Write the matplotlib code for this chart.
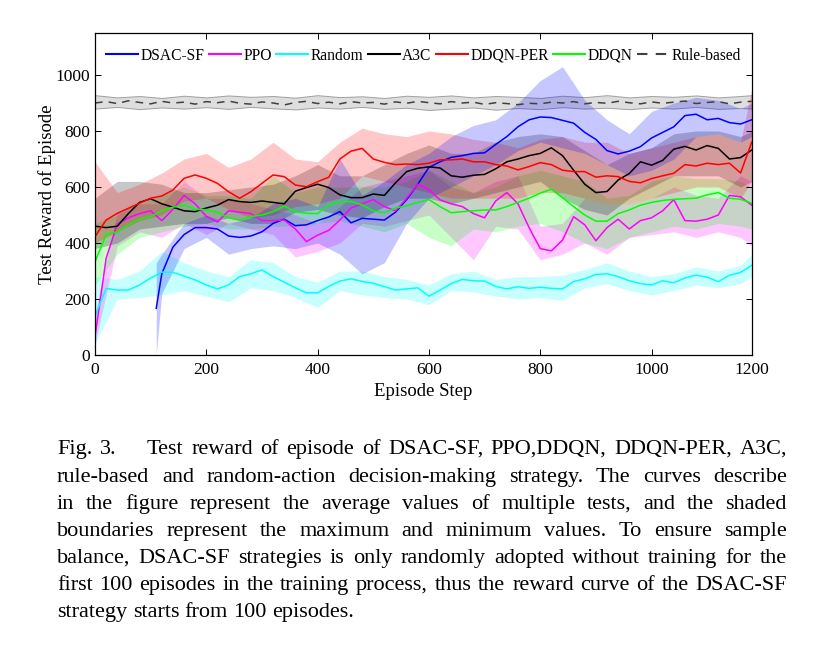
import numpy as np
import matplotlib
matplotlib.use('Agg')
import matplotlib.pyplot as plt

plt.rcParams['font.family'] = 'Liberation Serif'

# episode grids
ep = np.arange(0, 1181, 20)
band_ep = np.r_[np.arange(0, 1161, 40), 1180]
dsac_ep = np.r_[110, np.arange(120, 1181, 20)]
dsac_band_ep = [110, 120, 160, 200, 240, 280, 320, 360, 400, 440, 480, 520, 560, 600, 640,
                680, 720, 760, 800, 840, 880, 920, 960, 1000, 1040, 1080, 1120, 1160, 1180]

# mean curves
dsac = [167, 290, 385, 430, 455, 455, 450, 425, 420, 425, 440, 470, 485, 462, 465, 480, 493, 512,
        472, 488, 485, 482, 510, 555, 610, 670, 690, 706, 712, 720, 722, 752, 780, 815, 840, 850,
        848, 838, 828, 795, 770, 730, 718, 728, 744, 775, 795, 815, 855, 860, 840, 845, 830, 825, 840]
ppo = [66, 345, 468, 490, 505, 515, 480, 520, 570, 540, 495, 475, 515, 510, 505, 480, 480, 482,
       450, 405, 428, 445, 482, 525, 540, 555, 530, 515, 560, 610, 590, 554, 540, 530, 505, 490,
       550, 580, 540, 455, 380, 372, 410, 494, 465, 408, 455, 485, 450, 480, 490, 515, 555, 480,
       478, 485, 500, 570, 565, 535]
rnd = [140, 238, 232, 232, 250, 275, 296, 295, 282, 268, 250, 236, 250, 280, 290, 304, 280, 260,
       240, 222, 222, 245, 264, 272, 263, 256, 244, 232, 236, 240, 210, 232, 255, 270, 265, 264,
       245, 236, 244, 238, 242, 238, 236, 262, 272, 288, 290, 280, 265, 255, 250, 265, 258, 275,
       285, 278, 262, 285, 295, 320]
a3c = [460, 455, 460, 505, 545, 558, 540, 528, 515, 512, 525, 535, 555, 548, 545, 550, 545, 540,
       585, 598, 610, 598, 572, 562, 562, 575, 570, 615, 655, 667, 672, 668, 640, 635, 642, 645,
       665, 690, 700, 712, 720, 740, 712, 660, 610, 580, 584, 625, 648, 690, 678, 695, 735, 745,
       732, 748, 738, 700, 705, 732]
per = [423, 482, 506, 524, 542, 560, 568, 589, 631, 643, 631, 613, 583, 560, 583, 613, 643, 637,
       607, 601, 619, 635, 700, 728, 738, 700, 688, 680, 682, 680, 685, 697, 697, 700, 690, 690,
       680, 675, 661, 673, 687, 680, 660, 655, 655, 635, 640, 637, 620, 615, 630, 640, 649, 680,
       675, 685, 680, 685, 650, 760]
ddqn = [333, 430, 440, 465, 485, 494, 515, 528, 535, 520, 518, 510, 490, 482, 494, 500, 512, 532,
        512, 506, 505, 536, 548, 548, 536, 515, 508, 525, 533, 545, 555, 530, 508, 512, 515, 518,
        518, 530, 545, 560, 578, 592, 562, 530, 500, 478, 478, 505, 518, 535, 545, 552, 556, 558,
        560, 572, 580, 560, 556, 542]
rule = [900, 905, 898, 908, 902, 897, 906, 900, 903, 896, 905, 901, 907, 899, 896, 904, 900, 893,
        902, 906, 898, 903, 897, 905, 900, 902, 896, 904, 899, 906, 901, 897, 905, 900, 903, 895,
        901, 898, 894, 899, 897, 903, 900, 905, 897, 902, 899, 906, 901, 897, 904, 899, 903, 907,
        898, 902, 905, 897, 903, 906]

# min / max envelopes
dsac_lo = [0, 220, 380, 420, 360, 380, 390, 380, 400, 360, 290, 330, 470, 560, 600, 640, 680, 730,
           760, 740, 720, 680, 640, 660, 700, 780, 790, 760, 780]
dsac_hi = [330, 360, 470, 500, 470, 490, 540, 560, 530, 700, 570, 620, 680, 720, 780, 820, 840, 900,
           980, 1030, 910, 840, 790, 870, 900, 920, 910, 880, 900]
ppo_lo = [40, 390, 440, 420, 470, 430, 470, 450, 430, 350, 370, 400, 470, 460, 480, 500, 420, 340,
          460, 450, 340, 360, 400, 360, 420, 430, 440, 420, 440, 420, 390]
ppo_hi = [150, 510, 540, 540, 620, 560, 560, 540, 520, 500, 470, 530, 600, 620, 640, 660, 600, 580,
          620, 640, 460, 470, 560, 540, 540, 560, 600, 570, 560, 640, 620]
rnd_lo = [40, 200, 205, 215, 230, 210, 190, 240, 230, 205, 170, 230, 215, 205, 200, 180, 230, 225,
          210, 200, 205, 195, 240, 255, 230, 215, 230, 250, 240, 255, 280]
rnd_hi = [280, 270, 300, 370, 330, 300, 280, 340, 330, 280, 260, 300, 300, 280, 270, 250, 290, 300,
          270, 280, 280, 285, 305, 330, 300, 280, 290, 315, 300, 320, 360]
a3c_lo = [380, 400, 450, 460, 470, 470, 490, 470, 470, 510, 520, 500, 490, 530, 560, 560, 540, 560,
          580, 600, 620, 560, 520, 500, 560, 600, 640, 640, 640, 600, 620]
a3c_hi = [560, 620, 620, 610, 580, 580, 590, 600, 610, 640, 680, 640, 640, 680, 720, 750, 720, 720,
          760, 780, 790, 780, 730, 680, 720, 740, 790, 800, 800, 780, 800]
per_lo = [400, 440, 480, 500, 550, 560, 520, 490, 500, 530, 540, 560, 640, 620, 600, 580, 560, 560,
          560, 560, 580, 580, 560, 540, 540, 560, 580, 600, 600, 560, 620]
per_hi = [690, 580, 610, 650, 700, 720, 670, 700, 760, 700, 690, 760, 810, 790, 780, 800, 790, 770,
          760, 740, 770, 780, 760, 760, 720, 740, 760, 780, 790, 760, 950]
ddqn_lo = [250, 360, 420, 440, 460, 470, 450, 450, 460, 460, 470, 480, 460, 440, 470, 420, 390, 450,
           440, 460, 470, 440, 400, 380, 420, 440, 460, 450, 470, 460, 450]
ddqn_hi = [470, 500, 540, 570, 600, 570, 570, 560, 640, 580, 600, 600, 600, 600, 620, 660, 620, 580,
           600, 640, 660, 640, 620, 560, 570, 620, 640, 630, 630, 620, 600]
rule_lo = [880, 886, 878, 884, 880, 885, 879, 886, 881, 877, 884, 880, 886, 879, 883, 875, 880, 884,
           876, 882, 878, 885, 880, 883, 878, 884, 880, 886, 879, 882, 880]
rule_hi = [928, 920, 925, 918, 926, 920, 927, 922, 925, 919, 928, 921, 924, 918, 926, 922, 927, 920,
           925, 922, 918, 926, 921, 928, 920, 925, 922, 927, 920, 925, 928]

xtick_vals = [0, 200, 400, 600, 800, 1000, 1180]
xtick_labels = ['0', '200', '400', '600', '800', '1000', '1200']

caption = [
    "Fig. 3.    Test reward of episode of DSAC-SF, PPO,DDQN, DDQN-PER, A3C,",
    "rule-based and random-action decision-making strategy. The curves describe",
    "in the figure represent the average values of multiple tests, and the shaded",
    "boundaries represent the maximum and minimum values. To ensure sample",
    "balance, DSAC-SF strategies is only randomly adopted without training for the",
    "first 100 episodes in the training process, thus the reward curve of the DSAC-SF",
    "strategy starts from 100 episodes.",
]

W, H = 826, 647
fig = plt.figure(figsize=(W / 100, H / 100), dpi=100)
ax = fig.add_axes([95 / W, 1 - 355 / H, (751.7 - 95) / W, (355 - 33) / H])

al = 0.22
ax.fill_between(band_ep, rule_lo, rule_hi, facecolor='#d6d6d6', edgecolor='#8c8c8c', lw=0.7, alpha=0.8)
ax.fill_between(band_ep, rnd_lo, rnd_hi, color='#00ffff', alpha=al, lw=0)
ax.fill_between(band_ep, ppo_lo, ppo_hi, color='#ff00ff', alpha=al, lw=0)
ax.fill_between(band_ep, ddqn_lo, ddqn_hi, color='#00ff00', alpha=al, lw=0)
ax.fill_between(band_ep, a3c_lo, a3c_hi, color='#000000', alpha=al, lw=0)
ax.fill_between(band_ep, per_lo, per_hi, color='#ff0000', alpha=al, lw=0)
ax.fill_between(dsac_band_ep, dsac_lo, dsac_hi, color='#0000ff', alpha=al, lw=0)

lw = 1.1
h_dsac, = ax.plot(dsac_ep, dsac, color='#0000ff', lw=lw, label='DSAC-SF')
h_ppo, = ax.plot(ep, ppo, color='#ff00ff', lw=lw, label='PPO')
h_rnd, = ax.plot(ep, rnd, color='#00ffff', lw=lw, label='Random')
h_a3c, = ax.plot(ep, a3c, color='#000000', lw=lw, label='A3C')
h_per, = ax.plot(ep, per, color='#ff0000', lw=lw, label='DDQN-PER')
h_ddqn, = ax.plot(ep, ddqn, color='#00ff00', lw=lw, label='DDQN')
h_rule, = ax.plot(ep, rule, color='#404040', lw=lw, ls=(0, (5, 4)), label='Rule-based')

leg = ax.legend(handles=[h_dsac, h_ppo, h_rnd, h_a3c, h_per, h_ddqn, h_rule], ncol=7,
                loc='upper center', bbox_to_anchor=(0.5, 1.0), frameon=False, fontsize=11.2,
                handlelength=2.05, handletextpad=0.15, columnspacing=0.3, borderaxespad=0.55)
for h in leg.legend_handles:
    h.set_linewidth(1.5)

ax.set_xlim(0, 1180)
ax.set_ylim(0, 1150)
ax.set_xticks(xtick_vals)
ax.set_xticklabels(xtick_labels)
ax.set_yticks(np.arange(0, 1001, 200))
ax.tick_params(direction='in', top=True, right=True, labelsize=12.5, length=4, width=0.7)
ax.tick_params(axis='x', pad=5)
for s in ax.spines.values():
    s.set_linewidth(0.9)
ax.set_xlabel('Episode Step', fontsize=13.5, labelpad=4)
ax.set_ylabel('Test Reward of Episode', fontsize=13.5, labelpad=0)

# caption, justified between x0 and x1
cap_fs = 16
x0, x1 = 57, 787
baselines = [454, 482, 509, 536, 563, 590, 617]
renderer = fig.canvas.get_renderer()
space = 0.25 * cap_fs * 100 / 72
for i, (line, yb) in enumerate(zip(caption, baselines)):
    toks = line.split(' ')
    texts = []
    widths = []
    for t in toks:
        if t:
            txt = fig.text(0, 1 - yb / H, t, fontsize=cap_fs, va='baseline', ha='left')
            texts.append(txt)
            widths.append(txt.get_window_extent(renderer).width)
        else:
            texts.append(None)
            widths.append(0)
    ngap = len(toks) - 1
    if i < len(caption) - 1:
        gap = (x1 - x0 - sum(widths)) / ngap
    else:
        gap = space
    x = x0
    for txt, w in zip(texts, widths):
        if txt is not None:
            txt.set_x(x / W)
        x += w + gap

fig.savefig('out.png', dpi=100)
